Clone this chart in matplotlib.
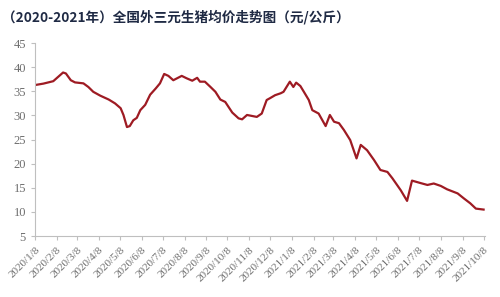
import matplotlib
matplotlib.use("Agg")
import matplotlib.pyplot as plt
import pandas as pd

# weekly-ish national average price of outer-ternary live hogs (yuan/kg)
dates = ["2020-01-08", "2020-01-20", "2020-02-03", "2020-02-10", "2020-02-17", "2020-02-21",
         "2020-02-28", "2020-03-05", "2020-03-17", "2020-03-24", "2020-03-31", "2020-04-10",
         "2020-04-22", "2020-05-01", "2020-05-09", "2020-05-13", "2020-05-18", "2020-05-22",
         "2020-05-27", "2020-06-01", "2020-06-06", "2020-06-13", "2020-06-20", "2020-06-28",
         "2020-07-04", "2020-07-10", "2020-07-16", "2020-07-23", "2020-08-04", "2020-08-11",
         "2020-08-19", "2020-08-26", "2020-08-30", "2020-09-06", "2020-09-14", "2020-09-21",
         "2020-09-28", "2020-10-05", "2020-10-15", "2020-10-24", "2020-10-29", "2020-11-05",
         "2020-11-12", "2020-11-19", "2020-11-26", "2020-12-03", "2020-12-08", "2020-12-15",
         "2020-12-23", "2020-12-27", "2021-01-05", "2021-01-10", "2021-01-14", "2021-01-20",
         "2021-01-25", "2021-02-01", "2021-02-06", "2021-02-15", "2021-02-25", "2021-03-03",
         "2021-03-09", "2021-03-16", "2021-03-23", "2021-04-01", "2021-04-10", "2021-04-16",
         "2021-04-25", "2021-05-05", "2021-05-14", "2021-05-24", "2021-05-31", "2021-06-12",
         "2021-06-21", "2021-06-28", "2021-07-10", "2021-07-20", "2021-07-29", "2021-08-08",
         "2021-08-17", "2021-09-01", "2021-09-10", "2021-09-19", "2021-09-27", "2021-10-08"]
prices = [36.3, 36.6, 37.1, 38.0, 38.9, 38.7,
          37.3, 36.85, 36.65, 35.9, 34.9, 34.1,
          33.3, 32.5, 31.5, 30.1, 27.6, 27.8,
          29.0, 29.5, 31.1, 32.2, 34.3, 35.6,
          36.65, 38.6, 38.2, 37.3, 38.2, 37.7,
          37.2, 37.8, 37.0, 37.0, 35.9, 34.9,
          33.3, 32.8, 30.6, 29.4, 29.2, 30.1,
          29.9, 29.7, 30.4, 33.2, 33.6, 34.2,
          34.6, 34.9, 37.0, 35.9, 36.8, 36.1,
          34.9, 33.2, 31.1, 30.4, 27.8, 30.1,
          28.7, 28.4, 27.0, 24.9, 21.1, 23.9,
          22.8, 20.75, 18.7, 18.3, 17.0, 14.5,
          12.3, 16.5, 16.0, 15.6, 15.9, 15.4,
          14.7, 13.85, 12.8, 11.8, 10.7, 10.5]
tick_dates = pd.date_range("2020-01-01", "2021-10-01", freq="MS") + pd.Timedelta(days=7)
tick_labels = [f"{d.year}/{d.month}/{d.day}" for d in tick_dates]

x = pd.to_datetime(dates)

fig = plt.figure(figsize=(5, 2.97), dpi=100)
ax = fig.add_axes([0.07, 0.205, 0.90, 0.65])
ax.plot(x, prices, color="#9E1B23", linewidth=1.6)

ax.set_ylim(5, 45)
ax.set_yticks(range(5, 46, 5))
ax.set_xlim(tick_dates[0], tick_dates[-1] + pd.Timedelta(days=2))
ax.set_xticks(tick_dates)
ax.set_xticklabels(tick_labels, rotation=45, ha="right", va="top",
                   rotation_mode="anchor")

for s in ["top", "right"]:
    ax.spines[s].set_visible(False)
for s in ["left", "bottom"]:
    ax.spines[s].set_color("#BFBFBF")
    ax.spines[s].set_linewidth(0.8)
ax.tick_params(axis="both", colors="#BFBFBF", length=3, width=0.8)
for lab in ax.get_xticklabels():
    lab.set_family("Liberation Serif")
    lab.set_color("#6E6E6E")
    lab.set_fontsize(8)
for lab in ax.get_yticklabels():
    lab.set_family("Liberation Serif")
    lab.set_color("#6E6E6E")
    lab.set_fontsize(9)

fig.text(0.004, 0.943, "（2020-2021年）全国外三元生猪均价走势图（元/公斤）",
         family=["Noto Sans CJK SC", "DejaVu Sans"], fontsize=9.8,
         fontweight="bold", color="#1F2A44", va="center")

fig.savefig("out.png", dpi=100, facecolor="white")
